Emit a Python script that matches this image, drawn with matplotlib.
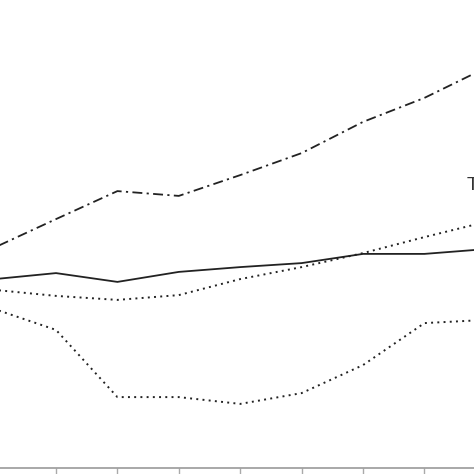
import matplotlib
matplotlib.use("Agg")
import matplotlib.pyplot as plt
import numpy as np

# category positions (chart is cropped on both sides)
periods = np.arange(9)
tick_positions = [1, 2, 3, 4, 5, 6, 7]

# series values
upper_band = [55.0, 62.1, 69.1, 67.9, 73.1, 78.6, 86.4, 92.4, 99.9]
main_series = [47.1, 48.6, 46.4, 48.9, 50.1, 51.1, 53.4, 53.4, 54.6]
upper_dotted = [44.4, 42.9, 41.9, 43.1, 47.1, 50.1, 53.6, 57.6, 61.4]
lower_dotted = [39.6, 34.4, 17.6, 17.6, 15.9, 18.6, 25.6, 36.1, 36.9]
label_text = "T"

fig = plt.figure(figsize=(4.74, 4.74), dpi=100)
ax = fig.add_axes([0, 0, 1, 1])

line_col = "#222222"
ax.plot(periods, upper_band, color=line_col, lw=1.3,
        linestyle=(0, (5.5, 2.4, 1.2, 2.4)))
ax.plot(periods, main_series, color=line_col, lw=1.3, linestyle="-")
ax.plot(periods, upper_dotted, color=line_col, lw=1.4,
        linestyle=(0, (1, 2.2)))
ax.plot(periods, lower_dotted, color=line_col, lw=1.4,
        linestyle=(0, (1, 2.2)))

ax.text(7.69, 70.6, label_text, fontsize=14, family="Liberation Sans",
        color="#333333", va="center", ha="left")

ax.set_xlim(5.4 / 61.4, (474 + 5.4) / 61.4)
ax.set_ylim(-6.5 / 4, 467.5 / 4)

for side in ["top", "left", "right"]:
    ax.spines[side].set_visible(False)
ax.spines["bottom"].set_position(("data", 0))
ax.spines["bottom"].set_color("#999999")
ax.spines["bottom"].set_linewidth(1.2)
ax.set_xticks(tick_positions)
ax.set_xticklabels([])
ax.set_yticks([])
ax.tick_params(axis="x", direction="out", length=6, width=1.0,
               color="#aaaaaa")
ax.patch.set_alpha(0)

fig.savefig("out.png", dpi=100)
